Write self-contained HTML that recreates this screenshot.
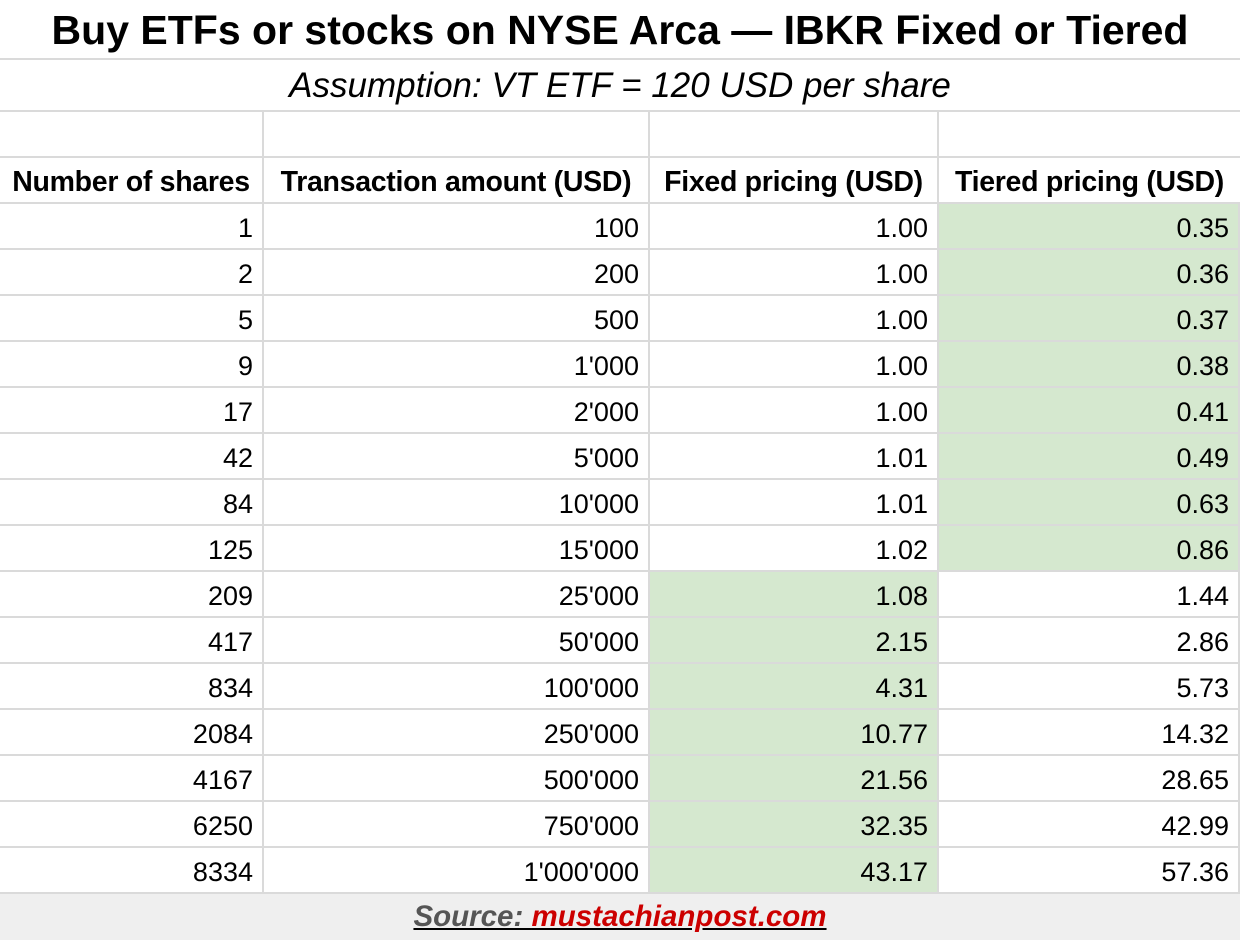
<!DOCTYPE html>
<html><head><meta charset="utf-8"><style>
body{margin:0;width:1240px;height:940px;background:#fff;font-family:"Liberation Sans",Arial,sans-serif;overflow:hidden;position:relative;color:#000}
.r{position:absolute;left:0;width:1240px;border-bottom:2px solid #dadada;box-sizing:border-box}
.c{position:absolute;top:0;height:100%;box-sizing:border-box;border-right:2px solid #dadada;text-align:right;padding-right:9px;padding-top:4px;font-size:27px;display:flex;align-items:center;justify-content:flex-end}
.g{background:#d5e8cf}
.h .c{font-weight:bold;font-size:28.5px;justify-content:center;padding:4px 0 0 0;white-space:nowrap;letter-spacing:-0.3px}
</style></head><body>
<div class="r" style="top:0;height:60px;display:flex;align-items:center;justify-content:center;font-weight:bold;font-size:41px;padding-top:2px">Buy ETFs or stocks on NYSE Arca — IBKR Fixed or Tiered</div>
<div class="r" style="top:60px;height:52px;display:flex;align-items:center;justify-content:center;font-style:italic;font-size:35px;padding-top:2px">Assumption: VT ETF = 120 USD per share</div>
<div class="r" style="top:112px;height:46px"><div class="c" style="left:0;width:264px"></div><div class="c" style="left:264px;width:386px"></div><div class="c" style="left:650px;width:289px"></div></div>
<div class="r h" style="top:158px;height:46px"><div class="c" style="left:0;width:264px">Number of shares</div><div class="c" style="left:264px;width:386px">Transaction amount (USD)</div><div class="c" style="left:650px;width:289px">Fixed pricing (USD)</div><div class="c" style="left:939px;width:301px;border-right:none">Tiered pricing (USD)</div></div>
<div id="rows"></div>
<div style="position:absolute;top:894px;left:0;width:1240px;height:46px;background:#efefef;display:flex;align-items:center;justify-content:center;font-weight:bold;font-style:italic;font-size:29.5px;text-decoration:underline"><span style="color:#555">Source:&nbsp;</span><span style="color:#c00">mustachianpost.com</span></div>
<script>
var d=[[1,"100","1.00","0.35"],[2,"200","1.00","0.36"],[5,"500","1.00","0.37"],[9,"1'000","1.00","0.38"],[17,"2'000","1.00","0.41"],[42,"5'000","1.01","0.49"],[84,"10'000","1.01","0.63"],[125,"15'000","1.02","0.86"],[209,"25'000","1.08","1.44"],[417,"50'000","2.15","2.86"],[834,"100'000","4.31","5.73"],[2084,"250'000","10.77","14.32"],[4167,"500'000","21.56","28.65"],[6250,"750'000","32.35","42.99"],[8334,"1'000'000","43.17","57.36"]];
var h="";d.forEach(function(r,i){var t=i<8;h+='<div class="r" style="top:'+(204+i*46)+'px;height:46px"><div class="c" style="left:0;width:264px">'+r[0]+'</div><div class="c" style="left:264px;width:386px">'+r[1]+'</div><div class="c'+(t?'':' g')+'" style="left:650px;width:289px">'+r[2]+'</div><div class="c'+(t?' g':'')+'" style="left:939px;width:301px">'+r[3]+'</div></div>';});
document.getElementById("rows").innerHTML=h;
</script>
</body></html>
